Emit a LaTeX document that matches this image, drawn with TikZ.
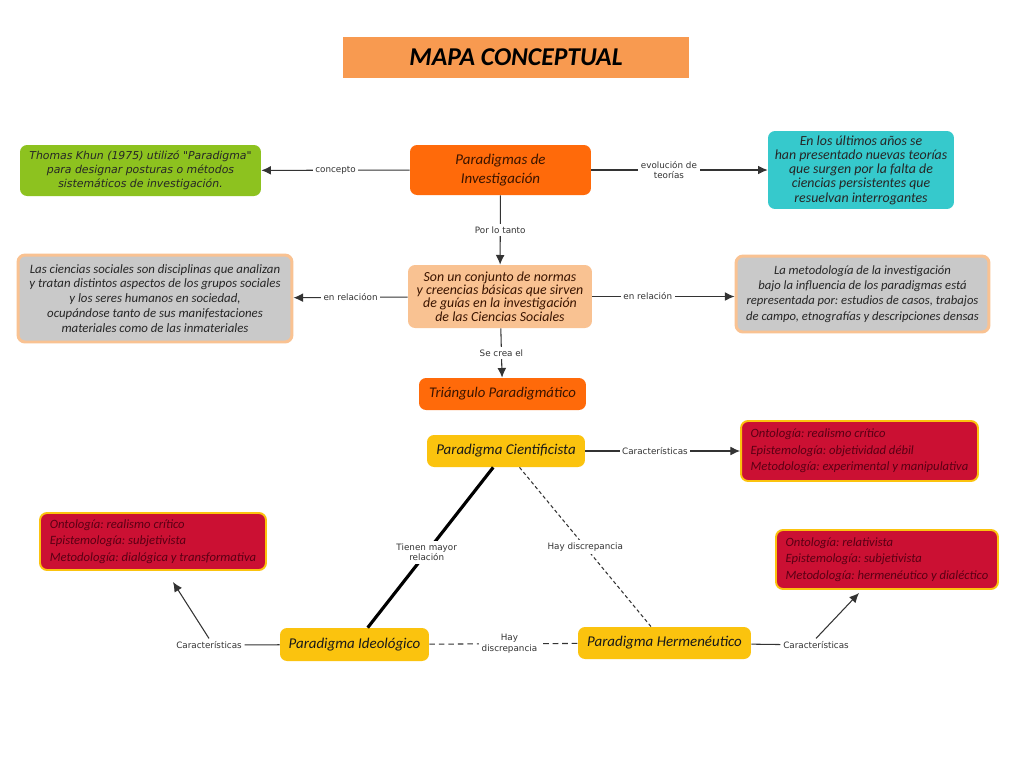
\documentclass[tikz,border=0pt]{standalone}
\usepackage{fontspec}
\setmainfont{Carlito}
\newfontfamily\verd{DejaVu Sans}
\usetikzlibrary{arrows.meta}
\frenchspacing
\definecolor{titulo}{HTML}{F89A50}
\definecolor{naranja}{HTML}{FF6A0A}
\definecolor{verde}{HTML}{8DC21F}
\definecolor{turquesa}{HTML}{36C9CC}
\definecolor{gris}{HTML}{C9C9C9}
\definecolor{durazno}{HTML}{F9C292}
\definecolor{amarillo}{HTML}{FBC30E}
\definecolor{rojo}{HTML}{CB1033}
\definecolor{rojotxt}{HTML}{5A0014}
\definecolor{marron}{HTML}{3A1400}
\tikzset{caja/.style={rounded corners=4pt, align=center, inner sep=1pt}}
\tikzset{l/.style={font=\verd\fontsize{5}{6}\selectfont, text=black!80, fill=white, inner sep=1.5pt, align=center}}
\tikzset{roja/.style={caja, fill=rojo, draw=amarillo, line width=1.1pt, align=left, text=rojotxt, font=\fontsize{7.2}{9.4}\selectfont\itshape}}
\tikzset{para/.style={caja, fill=amarillo, text=black!90, font=\fontsize{8.5}{9}\selectfont\itshape}}
\tikzset{flecha/.style={-{Latex[length=5.5pt,width=5pt]}}}
\tikzset{linea/.style={draw=black!80, line width=0.6pt}}

\begin{document}
\begin{tikzpicture}[x=0.02cm, y=-0.02cm]
  \useasboundingbox[fill=white] (0,0) rectangle (1024,768);
  \node[fill=titulo, minimum width=6.92cm, minimum height=0.82cm, font=\fontsize{14.6}{15}\selectfont\bfseries\itshape] (titulo) at (516,57.5) {MAPA CONCEPTUAL};
  % primer nivel
  \node[caja, fill=verde, minimum width=4.82cm, minimum height=1.02cm, text=black!85, font=\verd\fontsize{6.2}{8}\selectfont\itshape] (khun) at (140.5,170.5) {Thomas Khun (1975) utilizó "Paradigma"\\para designar posturas o métodos\\sistemáticos de investigación.};
  \node[caja, fill=naranja, minimum width=3.62cm, minimum height=1cm, text=marron, font=\fontsize{8.5}{10.5}\selectfont\itshape] (parinv) at (500.5,170) {Paradigmas de\\Investigación};
  \node[caja, fill=turquesa, minimum width=3.72cm, minimum height=1.56cm, text=black!85, font=\fontsize{7.9}{8.1}\selectfont\itshape] (ultimos) at (861,170) {En los últimos años se\\han presentado nuevas teorías\\que surgen por la falta de\\ciencias persistentes que\\resuelvan interrogantes};
  % segundo nivel
  \node[caja, fill=gris, draw=durazno, line width=1.7pt, minimum width=5.48cm, minimum height=1.74cm, text=black!85, font=\fontsize{7.3}{8.5}\selectfont\itshape] (sociales) at (155,298.5) {Las ciencias sociales son disciplinas que analizan\\y tratan distintos aspectos de los grupos sociales\\y los seres humanos en sociedad,\\ocupándose tanto de sus manifestaciones\\materiales como de las inmateriales};
  \node[caja, fill=durazno, minimum width=3.68cm, minimum height=1.26cm, text=marron, font=\fontsize{7.9}{7.6}\selectfont\itshape] (normas) at (500,296.5) {Son un conjunto de normas\\y creencias básicas que sirven\\de guías en la investigación\\de las Ciencias Sociales};
  \node[caja, fill=gris, draw=durazno, line width=1.7pt, minimum width=5.06cm, minimum height=1.52cm, text=black!85, font=\fontsize{7.2}{8.7}\selectfont\itshape] (metodo) at (862.5,294) {La metodología de la investigación\\bajo la influencia de los paradigmas está\\representada por: estudios de casos, trabajos\\de campo, etnografías y descripciones densas};
  \node[caja, fill=naranja, minimum width=3.34cm, minimum height=0.64cm, text=marron, font=\fontsize{8.4}{9}\selectfont\itshape] (triang) at (502.5,394) {Triángulo Paradigmático};
  % triangulo
  \node[para, minimum width=3.16cm, minimum height=0.64cm] (cient) at (506,451) {Paradigma Cientificista};
  \node[para, minimum width=2.98cm, minimum height=0.66cm] (ideol) at (354.5,644.5) {Paradigma Ideológico};
  \node[para, minimum width=3.46cm, minimum height=0.64cm] (herme) at (664.5,643) {Paradigma Hermenéutico};
  \node[roja, minimum width=4.74cm, minimum height=1.2cm] (rojoa) at (859.5,451) {Ontología: realismo crítico\\Epistemología: objetividad débil\\Metodología: experimental y manipulativa};
  \node[roja, minimum width=4.52cm, minimum height=1.14cm] (rojob) at (153,541.5) {Ontología: realismo crítico\\Epistemología: subjetivista\\Metodología: dialógica y transformativa};
  \node[roja, minimum width=4.44cm, minimum height=1.18cm] (rojoc) at (887,559.5) {Ontología: relativista\\Epistemología: subjetivista\\Metodología: hermenéutico y dialéctico};
  \node[l] (carb) at (209,645) {Características};
  \node[l] (carc) at (816,645) {Características};
  \coordinate (puntab) at (173,582);
  \coordinate (puntac) at (859,593);

  % conectores
  \draw[linea, flecha] (parinv) -- node[l] (concepto) {concepto} (khun);
  \draw[linea, flecha] (parinv) -- node[l, pos=0.44] (evol) {evolución de\\teorías} (ultimos);
  \draw[linea, flecha] (parinv) -- node[l] (portanto) {Por lo tanto} (normas);
  \draw[linea, flecha] (normas) -- node[l] (relizq) {en relacióon} (sociales);
  \draw[linea, flecha] (normas) -- node[l, pos=0.39] (relder) {en relación} (normas -| metodo.west);
  \draw[linea, flecha] (normas) -- node[l] (secrea) {Se crea el} (triang);
  \draw[linea, flecha] (cient) -- node[l, pos=0.45] (cara) {Características} (rojoa);
  \draw[black, line width=1.8pt] (cient) -- node[l, pos=0.53] (tienen) {Tienen mayor\\relación} (ideol);
  \draw[linea, dash pattern=on 2pt off 1.5pt] (cient) -- node[l, pos=0.5] (haya) {Hay discrepancia} (herme);
  \draw[linea, dash pattern=on 3.2pt off 2.2pt] (ideol) -- node[l, pos=0.54] (hayb) {Hay\\discrepancia} (herme);
  \draw[linea] (ideol) -- (carb);
  \draw[linea, flecha] (carb.north) -- (puntab);
  \draw[linea] (herme) -- (carc);
  \draw[linea, flecha] (carc.north) -- (puntac);
\end{tikzpicture}
\end{document}
